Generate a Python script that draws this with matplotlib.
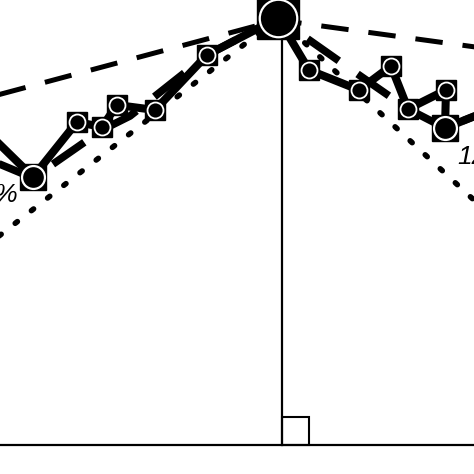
import matplotlib
matplotlib.use("Agg")
import matplotlib.pyplot as plt

# Data (diagram coordinates, y grows downward)
main_x = [-15, 33, 77, 102, 117, 155, 207, 278, 309, 359, 391, 408, 446, 445, 490]
main_y = [130, 177, 122, 127, 105, 110, 55, 18, 70, 90, 66, 109, 90, 128, 110]
main_size = ["none", "m", "s", "s", "s", "s", "s", "L", "s", "s", "s", "s", "s", "m", "none"]

alt_x = [-15, 33, 102, 130, 207, 278, 359, 408, 445, 490]
alt_y = [158, 178, 130, 116, 55, 18, 75, 109, 128, 110]

upper_x = [-10, 278, 490]
upper_y = [97, 20, 49]

lower_x = [-10, 278, 490]
lower_y = [243, 18, 215]

axis_x = [0, 474]
axis_y = [445, 445]
vert_x = [282, 282]
vert_y = [18, 445]

label_left = "12%"
label_right = "12%"

fig = plt.figure(figsize=(4.74, 4.74), dpi=100)
ax = fig.add_axes([0, 0, 1, 1])
ax.set_xlim(0, 474)
ax.set_ylim(474, 0)
ax.axis("off")

# reference lines
ax.plot(upper_x, upper_y, color="black", lw=3.6, dashes=(5.5, 4), zorder=1)
ax.plot(lower_x, lower_y, color="black", lw=4.0, linestyle=(0, (0.5, 3.2)),
        dash_capstyle="round", zorder=1)
ax.plot(vert_x, vert_y, color="black", lw=1.6, zorder=1)
ax.plot(axis_x, axis_y, color="black", lw=1.6, zorder=1)
ax.add_patch(plt.Rectangle((282, 417), 27, 28, fill=False, ec="black", lw=1.5, zorder=1))

# thick lines
ax.plot(alt_x, alt_y, color="black", lw=5.5, dashes=(5, 3), zorder=2)
ax.plot(main_x, main_y, color="black", lw=5.8, solid_joinstyle="miter", zorder=3)

sq = {"s": 15, "m": 19, "L": 30}
ci = {"s": 11.5, "m": 16.5, "L": 27}
for x, y, s in zip(main_x, main_y, main_size):
    if s == "none":
        continue
    ax.plot([x], [y], marker="s", ms=sq[s], color="black", mec="black", zorder=4)
    ax.plot([x], [y], marker="o", ms=ci[s], mfc="black", mec="white",
            mew=1.6 if s != "s" else 1.3, zorder=5)

ax.text(18, 202, label_left, fontsize=19, style="italic", family="Liberation Sans",
        ha="right", va="baseline", zorder=6)
ax.text(457, 164, label_right, fontsize=19, style="italic", family="Liberation Sans",
        ha="left", va="baseline", zorder=6)

fig.savefig("out.png", dpi=100)
